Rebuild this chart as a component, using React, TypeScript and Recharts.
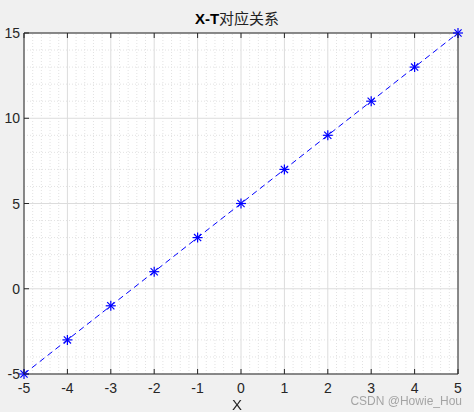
import { LineChart, Line, XAxis, YAxis, CartesianGrid, ReferenceLine } from 'recharts'

const xValues = [-5, -4, -3, -2, -1, 0, 1, 2, 3, 4, 5]
const yValues = [-5, -3, -1, 1, 3, 5, 7, 9, 11, 13, 15]
const xTicks = [-5, -4, -3, -2, -1, 0, 1, 2, 3, 4, 5]
const yTicks = [-5, 0, 5, 10, 15]
const xMinor = [
  -4.8, -4.6, -4.4, -4.2, -3.8, -3.6, -3.4, -3.2, -2.8, -2.6, -2.4, -2.2,
  -1.8, -1.6, -1.4, -1.2, -0.8, -0.6, -0.4, -0.2, 0.2, 0.4, 0.6, 0.8,
  1.2, 1.4, 1.6, 1.8, 2.2, 2.4, 2.6, 2.8, 3.2, 3.4, 3.6, 3.8, 4.2, 4.4, 4.6, 4.8,
]
const yMinor = [-4, -3, -2, -1, 1, 2, 3, 4, 6, 7, 8, 9, 11, 12, 13, 14]

const data = xValues.map((x, i) => ({ x, y: yValues[i] }))

const FONT = '"Liberation Sans", Arial, sans-serif'
const AXIS = '#262626'
const TICK = 5

// MATLAB 风格的 * 标记
const Star = (props: any) => {
  const { cx, cy, index } = props
  if (cx == null || cy == null) return null
  const r = 5
  const d = r * 0.72
  return (
    <g key={`s-${index}`} stroke="#0000ff" strokeWidth={1.2}>
      <line x1={cx - r} y1={cy} x2={cx + r} y2={cy} />
      <line x1={cx} y1={cy - r} x2={cx} y2={cy + r} />
      <line x1={cx - d} y1={cy - d} x2={cx + d} y2={cy + d} />
      <line x1={cx - d} y1={cy + d} x2={cx + d} y2={cy - d} />
    </g>
  )
}

const BottomTick = (props: any) => {
  const { x, y, payload } = props
  return (
    <g>
      <line x1={x} y1={y} x2={x} y2={y - TICK} stroke={AXIS} />
      <text x={x} y={y + 19} textAnchor="middle" fontSize={14} fill={AXIS} fontFamily={FONT}>
        {payload.value}
      </text>
    </g>
  )
}

const TopTick = (props: any) => {
  const { x, y } = props
  return <line x1={x} y1={y} x2={x} y2={y + TICK} stroke={AXIS} />
}

const LeftTick = (props: any) => {
  const { x, y, payload } = props
  return (
    <g>
      <line x1={x} y1={y} x2={x + TICK} y2={y} stroke={AXIS} />
      <text x={x - 4} y={y + 5} textAnchor="end" fontSize={14} fill={AXIS} fontFamily={FONT}>
        {payload.value}
      </text>
    </g>
  )
}

const RightTick = (props: any) => {
  const { x, y } = props
  return <line x1={x} y1={y} x2={x - TICK} y2={y} stroke={AXIS} />
}

export default function App() {
  return (
    <div style={{ position: 'fixed', left: 0, top: 0, width: 474, height: 412, background: '#f0f0f0', fontFamily: FONT }}>
      <LineChart width={474} height={412} data={data} margin={{ top: 0, right: 0, left: 0, bottom: 0 }}>
        <CartesianGrid stroke="#dcdcdc" fill="#ffffff" />
        {xMinor.map(v => (
          <ReferenceLine key={`mx${v}`} x={v} stroke="#e2e2e2" strokeDasharray="1 2" ifOverflow="visible" />
        ))}
        {yMinor.map(v => (
          <ReferenceLine key={`my${v}`} y={v} stroke="#e2e2e2" strokeDasharray="1 2" ifOverflow="visible" />
        ))}
        <XAxis dataKey="x" type="number" domain={[-5, 5]} ticks={xTicks} height={38} tickSize={0} tickMargin={0}
          tickLine={false} axisLine={{ stroke: AXIS }} tick={<BottomTick />} interval={0} />
        <XAxis xAxisId="top" orientation="top" dataKey="x" type="number" domain={[-5, 5]} ticks={xTicks} height={33}
          tickSize={0} tickMargin={0} tickLine={false} axisLine={{ stroke: AXIS }} tick={<TopTick />} interval={0} />
        <YAxis type="number" domain={[-5, 15]} ticks={yTicks} width={24} tickSize={0} tickMargin={0} tickLine={false}
          axisLine={{ stroke: AXIS }} tick={<LeftTick />} interval={0} />
        <YAxis yAxisId="right" orientation="right" type="number" domain={[-5, 15]} ticks={yTicks} width={16}
          tickSize={0} tickMargin={0} tickLine={false} axisLine={{ stroke: AXIS }} tick={<RightTick />} interval={0} />
        <Line type="linear" dataKey="y" stroke="#0000ff" strokeWidth={1} strokeDasharray="6 4"
          dot={Star} activeDot={false} isAnimationActive={false} />
      </LineChart>
      <div style={{ position: 'absolute', left: 0, width: 474, top: 8, textAlign: 'center', fontSize: 15, color: '#000', lineHeight: '20px' }}>
        <span style={{ fontWeight: 'bold', fontFamily: FONT }}>X-T</span>
        <span style={{ fontFamily: '"Noto Sans CJK SC", sans-serif', color: '#222' }}>对应关系</span>
      </div>
      <div style={{ position: 'absolute', left: 0, width: 474, top: 396, textAlign: 'center', fontSize: 15, color: AXIS, lineHeight: '17px' }}>
        X
      </div>
      <div style={{ position: 'absolute', right: 12, top: 394, fontSize: 12, color: 'rgba(150,150,150,0.85)', fontFamily: FONT }}>
        CSDN @Howie_Hou
      </div>
    </div>
  )
}
